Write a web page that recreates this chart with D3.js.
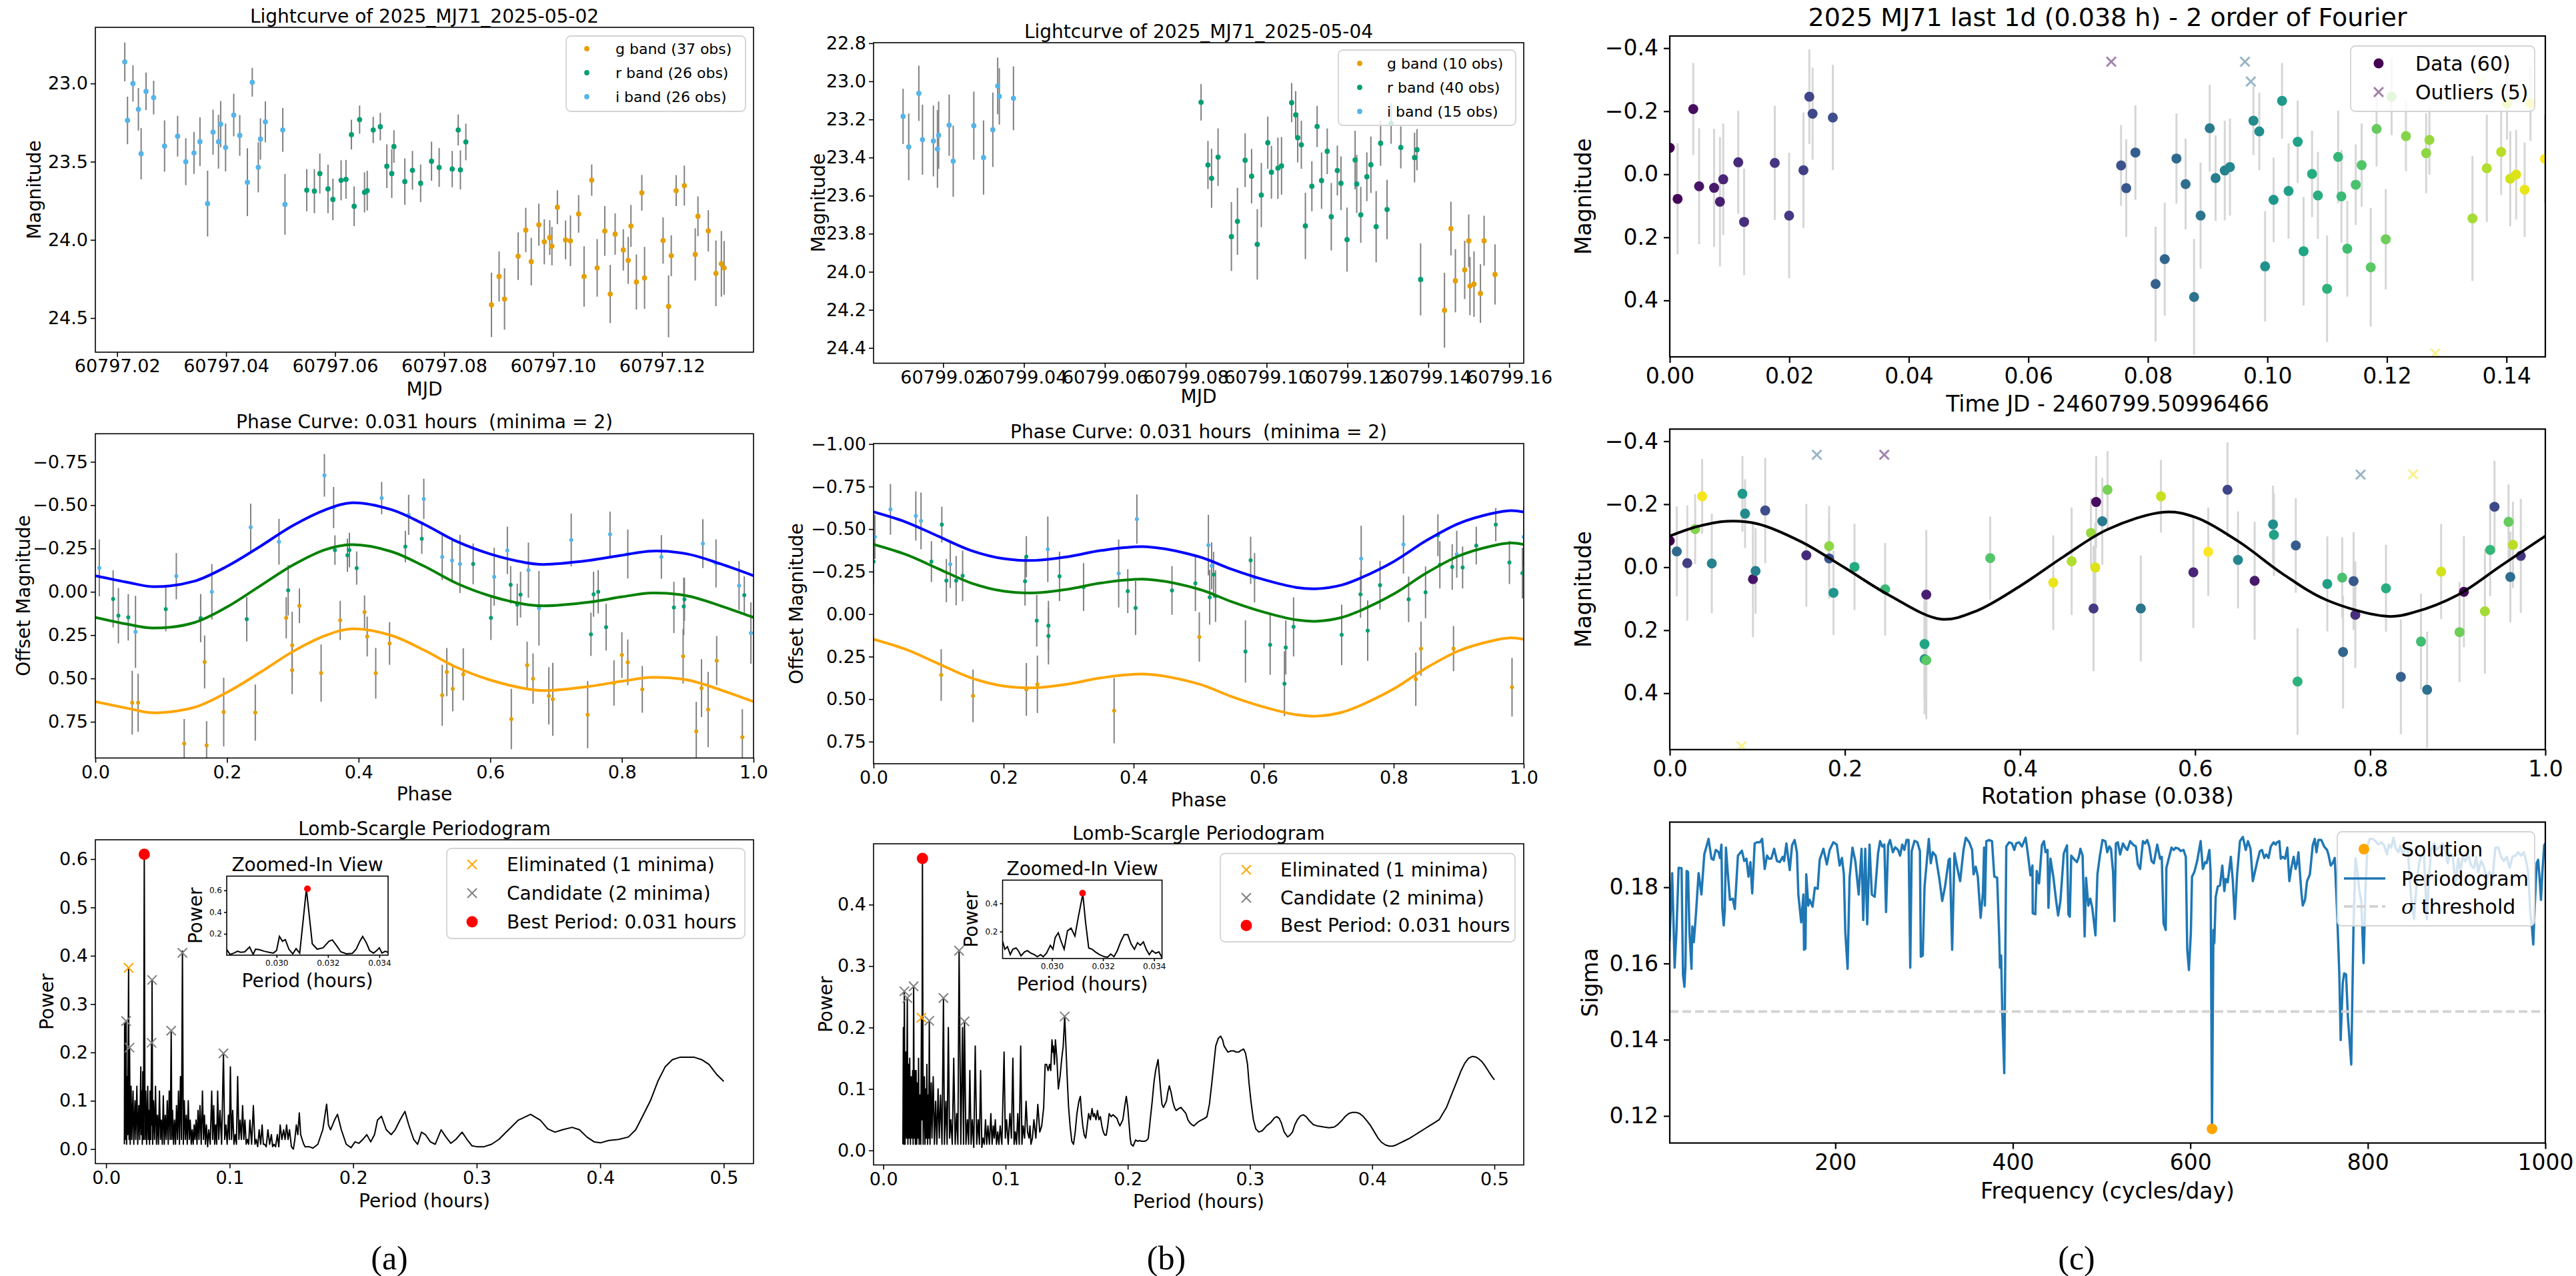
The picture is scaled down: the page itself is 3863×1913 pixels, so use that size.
<!DOCTYPE html>
<html>
<head>
<meta charset="utf-8">
<script src="https://cdn.jsdelivr.net/npm/d3@7"></script>
<style>
body { margin:0; background:#fff; }
svg text { white-space: pre; }
</style>
</head>
<body>
<svg id="fig" width="3863" height="1913"></svg>
<script>
// ---------- data ----------
const G_COL = '#E69F00', R_COL = '#009E73', I_COL = '#56B4E9';

// (a) light curve 2025-05-02: [MJD, mag, err]
const aTopI = [[60797.0214,22.862,.124],[60797.0219,23.236,.152],[60797.0229,23.000,.116],[60797.0239,23.165,.136],[60797.0244,23.449,.164],[60797.0253,23.050,.120],[60797.0267,23.090,.108],[60797.0287,23.400,.164],[60797.0311,23.337,.130],[60797.0326,23.500,.150],[60797.0341,23.444,.134],[60797.0352,23.372,.156],[60797.0366,23.768,.210],[60797.0376,23.311,.144],[60797.0386,23.372,.172],[60797.0390,23.260,.148],[60797.0399,23.409,.153],[60797.0414,23.202,.136],[60797.0425,23.332,.130],[60797.0439,23.631,.217],[60797.0448,22.992,.092],[60797.0459,23.536,.160],[60797.0463,23.355,.132],[60797.0472,23.245,.131],[60797.0504,23.297,.140],[60797.0508,23.773,.194]];
const aTopR = [[60797.0548,23.682,.135],[60797.0562,23.688,.141],[60797.0572,23.576,.128],[60797.0587,23.674,.155],[60797.0596,23.741,.133],[60797.0611,23.619,.128],[60797.0620,23.613,.124],[60797.0630,23.327,.095],[60797.0635,23.785,.127],[60797.0645,23.231,.090],[60797.0654,23.696,.128],[60797.0659,23.685,.127],[60797.0670,23.297,.084],[60797.0683,23.276,.088],[60797.0695,23.529,.140],[60797.0704,23.576,.156],[60797.0708,23.403,.104],[60797.0728,23.627,.148],[60797.0742,23.555,.124],[60797.0757,23.638,.120],[60797.0777,23.497,.125],[60797.0791,23.537,.124],[60797.0815,23.547,.116],[60797.0826,23.297,.099],[60797.0830,23.552,.125],[60797.0840,23.374,.117]];
const aTopG = [[60797.0887,24.415,.206],[60797.0901,24.234,.160],[60797.0911,24.378,.196],[60797.0936,24.104,.152],[60797.0950,23.937,.142],[60797.0960,24.139,.152],[60797.0974,23.903,.135],[60797.0984,24.012,.144],[60797.0994,23.985,.111],[60797.0998,24.040,.123],[60797.1008,23.791,.108],[60797.1023,24.000,.124],[60797.1032,24.006,.162],[60797.1047,23.834,.120],[60797.1057,24.234,.193],[60797.1071,23.618,.100],[60797.1081,24.179,.184],[60797.1095,23.943,.159],[60797.1105,24.346,.186],[60797.1114,23.963,.132],[60797.1129,24.064,.132],[60797.1138,24.131,.150],[60797.1143,23.911,.134],[60797.1153,24.269,.176],[60797.1163,23.699,.114],[60797.1168,24.243,.198],[60797.1202,24.004,.148],[60797.1212,24.425,.198],[60797.1217,24.101,.131],[60797.1226,23.685,.099],[60797.1241,23.653,.128],[60797.1261,24.093,.167],[60797.1266,23.849,.127],[60797.1285,23.942,.132],[60797.1299,24.214,.210],[60797.1309,24.153,.210],[60797.1314,24.179,.172]];

// (b) light curve 2025-05-04
const bTopI = [[60799.0101,23.184,.145],[60799.0115,23.344,.175],[60799.0140,23.063,.145],[60799.0149,23.306,.184],[60799.0176,23.313,.186],[60799.0186,23.355,.204],[60799.0189,23.283,.177],[60799.0215,23.230,.161],[60799.0225,23.419,.187],[60799.0276,23.233,.179],[60799.0300,23.400,.195],[60799.0323,23.254,.195],[60799.0335,23.024,.149],[60799.0339,23.079,.148],[60799.0374,23.089,.168]];
const bTopR = [[60799.0838,23.110,.096],[60799.0855,23.439,.126],[60799.0864,23.509,.155],[60799.0880,23.398,.151],[60799.0913,23.815,.181],[60799.0928,23.735,.176],[60799.0947,23.414,.141],[60799.0963,23.498,.143],[60799.0977,23.856,.185],[60799.0987,23.597,.169],[60799.1003,23.322,.137],[60799.1012,23.477,.139],[60799.1028,23.456,.161],[60799.1037,23.444,.151],[60799.1062,23.112,.103],[60799.1072,23.176,.124],[60799.1077,23.296,.130],[60799.1086,23.333,.126],[60799.1096,23.759,.174],[60799.1112,23.551,.131],[60799.1125,23.237,.108],[60799.1136,23.521,.148],[60799.1150,23.367,.120],[60799.1160,23.711,.177],[60799.1175,23.468,.131],[60799.1184,23.535,.141],[60799.1199,23.831,.168],[60799.1219,23.413,.154],[60799.1223,23.539,.153],[60799.1233,23.701,.147],[60799.1248,23.501,.128],[60799.1258,23.438,.148],[60799.1271,23.763,.187],[60799.1282,23.325,.118],[60799.1298,23.673,.156],[60799.1308,23.221,.107],[60799.1332,23.347,.110],[60799.1366,23.400,.130],[60799.1372,23.359,.108],[60799.1381,24.040,.189]];
const bTopG = [[60799.1440,24.202,.197],[60799.1456,23.773,.141],[60799.1467,24.047,.166],[60799.1490,23.990,.153],[60799.1500,23.837,.138],[60799.1503,24.075,.153],[60799.1513,24.065,.172],[60799.1529,24.114,.154],[60799.1538,23.837,.131],[60799.1565,24.014,.158]];

// phase curves: [phase, offset mag, err]
const aMidI = [[.006,-.138,.164],[.061,.231,.208],[.123,-.090,.133],[.177,.000,.160],[.236,-.372,.137],[.279,-.289,.132],[.348,-.672,.123],[.362,-.486,.119],[.435,-.541,.093],[.476,-.444,.116],[.499,-.536,.116],[.527,-.201,.133],[.542,-.181,.125],[.554,-.161,.168],[.606,-.087,.167],[.626,-.239,.137],[.658,-.125,.159],[.674,.095,.215],[.723,-.299,.152],[.782,-.332,.131],[.809,-.218,.141],[.860,-.201,.126],[.923,-.278,.141],[.943,-.164,.139],[.978,-.036,.142],[.996,.238,.177]];
const aMidR = [[.027,.041,.165],[.035,.138,.160],[.050,.147,.134],[.107,.100,.128],[.160,.152,.139],[.230,.158,.128],[.293,-.009,.146],[.364,-.241,.085],[.383,-.211,.096],[.386,-.241,.100],[.397,-.137,.096],[.471,-.261,.091],[.496,-.306,.087],[.574,-.161,.118],[.601,.150,.128],[.631,-.040,.108],[.641,.074,.121],[.646,.016,.132],[.753,.245,.125],[.757,.014,.130],[.764,.000,.125],[.776,.204,.135],[.879,.090,.148],[.894,.085,.166],[.895,.043,.125],[.986,.019,.108]];
const aMidG = [[.056,.640,.184],[.065,.640,.167],[.135,.876,.142],[.166,.405,.153],[.169,.886,.139],[.195,.694,.198],[.243,.697,.162],[.290,.150,.119],[.299,.309,.194],[.299,.452,.139],[.310,.081,.100],[.343,.469,.165],[.372,.165,.113],[.409,.117,.096],[.413,.258,.115],[.426,.470,.146],[.447,.298,.123],[.527,.597,.176],[.534,.463,.139],[.543,.560,.130],[.559,.476,.150],[.632,.734,.174],[.656,.423,.135],[.665,.501,.145],[.689,.600,.165],[.695,.620,.210],[.748,.709,.194],[.788,.526,.131],[.800,.365,.132],[.809,.407,.132],[.831,.563,.135],[.893,.372,.157],[.913,.805,.170],[.921,.556,.167],[.931,.679,.217],[.944,.397,.142],[.983,.839,.162]];
const aFitPhase = [0,.05,.087,.15,.2,.25,.3,.35,.39,.45,.5,.55,.6,.65,.68,.75,.8,.846,.9,.95,1];
const aFitI = [-.093,-.054,-.030,-.061,-.147,-.261,-.382,-.474,-.514,-.474,-.389,-.289,-.218,-.171,-.158,-.181,-.211,-.235,-.218,-.161,-.093];
const aFitR = [.148,.188,.209,.178,.088,-.033,-.154,-.244,-.272,-.232,-.147,-.047,.024,.070,.081,.060,.029,.007,.024,.081,.148];
const aFitG = [.634,.673,.698,.667,.580,.466,.345,.252,.214,.252,.338,.438,.509,.556,.570,.546,.516,.494,.509,.566,.634];

const bMidI = [[.002,-.454,.13],[.026,-.616,.149],[.065,-.577,.145],[.073,-.548,.167],[.118,-.293,.139],[.268,-.381,.193],[.377,-.239,.200],[.405,-.559,.145],[.515,-.406,.178],[.520,-.284,.138],[.586,-.214,.145],[.750,-.326,.194],[.815,-.410,.172],[.897,-.352,.138],[1.0,-.454,.174]];
const bMidR = [[.000,-.309,.13],[.089,-.309,.120],[.105,-.526,.106],[.112,-.197,.127],[.127,-.197,.145],[.137,-.225,.149],[.233,-.193,.143],[.235,-.338,.121],[.251,.039,.152],[.269,.068,.146],[.269,.129,.167],[.286,-.222,.145],[.323,-.159,.141],[.391,-.135,.129],[.403,-.036,.159],[.459,-.139,.143],[.495,-.181,.163],[.517,-.099,.161],[.523,-.232,.134],[.526,-.106,.152],[.572,.220,.183],[.580,-.316,.139],[.610,.181,.176],[.632,.409,.191],[.634,.196,.159],[.646,.075,.174],[.720,.122,.178],[.749,-.116,.138],[.760,.097,.178],[.779,-.170,.143],[.823,-.087,.134],[.849,-.128,.152],[.868,-.464,.123],[.871,-.290,.139],[.890,-.277,.134],[.906,-.274,.123],[.927,-.403,.111],[.957,-.526,.098],[.978,-.304,.127],[.998,-.241,.149]];
const bMidG = [[.104,.358,.152],[.153,.481,.155],[.235,.443,.155],[.252,.413,.169],[.370,.568,.192],[.501,.135,.145],[.834,.383,.157],[.842,.203,.159],[.892,.203,.133],[.982,.430,.172]];
const bFitPhase = [0,.05,.1,.15,.2,.25,.3,.35,.42,.5,.55,.6,.65,.68,.72,.75,.8,.85,.9,.95,.98,1];
const bFitI = [-.601,-.541,-.457,-.374,-.326,-.316,-.338,-.374,-.396,-.338,-.265,-.203,-.157,-.149,-.171,-.214,-.309,-.432,-.533,-.591,-.609,-.601];
const bFitR = [-.410,-.350,-.266,-.183,-.135,-.125,-.147,-.183,-.205,-.147,-.074,-.012,.034,.042,.020,-.023,-.118,-.241,-.342,-.400,-.418,-.410];
const bFitG = [.148,.208,.292,.375,.423,.433,.411,.375,.353,.411,.484,.546,.592,.600,.578,.535,.440,.317,.216,.158,.140,.148];

// Lomb-Scargle periodograms: [period (h), power]
const aPgram = [[.0148,.01],[.0150,.26],[.0155,.02],[.0162,.265],[.0166,.01],[.0170,.15],[.0175,.03],[.0182,.375],[.0186,.02],[.0190,.21],[.0195,.01],[.0202,.13],[.0208,.02],[.0218,.12],[.0224,.01],[.0234,.10],[.0240,.02],[.0249,.13],[.0256,.01],[.0265,.09],[.0272,.02],[.0281,.17],[.0285,.03],[.0289,.12],[.0293,.01],[.0297,.16],[.0303,.02],[.0309,.61],[.0315,.02],[.0321,.12],[.0328,.01],[.0337,.13],[.0342,.02],[.0348,.08],[.0352,.01],[.0356,.12],[.0362,.02],[.0368,.22],[.0370,.05],[.0372,.35],[.0377,.01],[.0384,.10],[.0392,.02],[.0400,.13],[.0408,.01],[.0416,.07],[.0424,.01],[.0432,.12],[.0440,.02],[.0447,.06],[.0455,.01],[.0463,.11],[.0471,.01],[.0479,.07],[.0487,.02],[.0495,.10],[.0503,.01],[.0511,.12],[.0519,.02],[.0527,.245],[.0532,.02],[.0538,.08],[.0546,.01],[.0554,.06],[.0562,.01],[.0570,.09],[.0578,.02],[.0586,.12],[.0594,.01],[.0602,.15],[.0610,.02],[.0618,.41],[.0625,.01],[.0633,.10],[.0641,.02],[.0649,.07],[.0657,.01],[.0665,.10],[.0673,.02],[.0681,.06],[.0689,.01],[.0697,.04],[.0705,.01],[.0713,.05],[.0720,.02],[.0728,.06],[.0736,.01],[.0744,.08],[.0752,.02],[.0760,.09],[.0770,.01],[.0780,.12],[.0788,.02],[.0796,.07],[.0804,.01],[.0812,.05],[.0822,.005],[.0831,.04],[.0843,.01],[.0855,.12],[.0863,.02],[.0871,.09],[.0879,.01],[.0887,.05],[.0895,.01],[.0903,.12],[.0912,.02],[.0922,.08],[.0935,.01],[.0950,.198],[.0960,.02],[.0970,.05],[.0980,.01],[.0990,.07],[.0998,.02],[.1006,.17],[.1015,.02],[.1025,.08],[.1035,.01],[.1045,.03],[.1055,.01],[.1065,.15],[.1075,.02],[.1085,.06],[.1095,.02],[.1105,.09],[.1115,.02],[.1124,.06],[.1134,.01],[.1144,.02],[.1154,.01],[.1164,.06],[.1178,.01],[.1192,.09],[.1205,.01],[.1215,.02],[.1227,.005],[.1239,.04],[.1251,.01],[.1263,.05],[.1273,.01],[.1283,.01],[.1296,.005],[.1310,.04],[.1324,.01],[.1338,.03],[.1348,.005],[.1358,.01],[.1372,.005],[.1386,.03],[.1398,.005],[.1409,.05],[.1423,.02],[.1437,.04],[.1449,.02],[.1461,.05],[.1473,.02],[.1485,.04],[.1500,.005],[.1516,.0],[.1528,.02],[.1540,.05],[.1552,.03],[.1564,.075],[.1575,.03],[.1587,.02],[.1600,.01],[.1611,.005],[.1643,.005],[.1675,.002],[.1714,.01],[.1754,.04],[.1785,.093],[.1800,.05],[.1817,.04],[.1849,.06],[.1873,.072],[.1904,.04],[.1944,.01],[.1983,.003],[.2015,.015],[.2047,.012],[.2078,.02],[.2110,.03],[.2142,.015],[.2173,.03],[.2197,.06],[.2229,.068],[.2268,.04],[.2308,.03],[.2340,.04],[.2379,.06],[.2419,.078],[.2450,.05],[.2490,.02],[.2522,.01],[.2553,.035],[.2585,.03],[.2625,.015],[.2664,.01],[.2712,.04],[.2751,.025],[.2791,.012],[.2831,.02],[.2882,.035],[.2922,.02],[.2961,.007],[.3001,.005],[.3060,.005],[.3120,.01],[.3179,.02],[.3258,.04],[.3337,.06],[.3436,.072],[.3515,.06],[.3575,.042],[.3634,.035],[.3694,.04],[.3773,.045],[.3832,.04],[.3892,.025],[.3951,.015],[.4002,.013],[.4070,.018],[.4149,.02],[.4228,.025],[.4287,.04],[.4347,.07],[.4406,.10],[.4466,.14],[.4525,.17],[.4584,.185],[.4644,.19],[.4703,.19],[.4762,.19],[.4822,.185],[.4881,.175],[.4941,.155],[.5000,.14]];
const aElim = [[.0182,.375]];
const aCand = [[.0162,.265],[.0190,.21],[.0372,.350],[.0368,.220],[.0527,.245],[.0618,.406],[.0950,.198]];
const aBest = [.0309,.61];
const aInset = [[.02806,.055],[.02819,.011],[.02834,.023],[.02848,.040],[.02861,.030],[.02876,.035],[.02895,.079],[.02909,.011],[.02918,.059],[.02933,.055],[.02952,.040],[.02971,.030],[.02987,.023],[.03000,.047],[.03011,.176],[.03023,.132],[.03034,.147],[.03048,.059],[.03063,.016],[.03076,.064],[.03090,.023],[.03103,.314],[.03116,.612],[.03128,.350],[.03139,.108],[.03158,.059],[.03181,.072],[.03204,.132],[.03217,.144],[.03230,.103],[.03250,.035],[.03272,.016],[.03295,.021],[.03310,.059],[.03324,.132],[.03335,.176],[.03349,.120],[.03362,.047],[.03377,.023],[.03390,.047],[.03400,.072],[.03410,.023],[.03423,.040],[.03434,.030]];
const aInsetBest = [.0312,.614];

const bPgram = [[.0160,.01],[.0164,.2],[.0168,.01],[.0172,.259],[.0178,.01],[.0184,.16],[.0190,.02],[.0196,.248],[.0201,.01],[.0206,.14],[.0211,.02],[.0216,.15],[.0222,.01],[.0228,.12],[.0234,.02],[.0240,.13],[.0244,.01],[.0248,.267],[.0253,.02],[.0258,.13],[.0263,.01],[.0268,.13],[.0273,.01],[.0280,.11],[.0284,.02],[.0288,.15],[.0293,.01],[.0300,.09],[.0306,.01],[.0312,.216],[.0316,.05],[.0320,.475],[.0326,.01],[.0336,.12],[.0341,.01],[.0348,.10],[.0352,.02],[.0356,.14],[.0362,.01],[.0368,.09],[.0372,.02],[.0376,.211],[.0382,.01],[.0392,.11],[.0398,.02],[.0408,.12],[.0418,.01],[.0428,.08],[.0438,.01],[.0448,.10],[.0458,.02],[.0468,.09],[.0480,.01],[.0492,.248],[.0500,.01],[.0512,.08],[.0522,.01],[.0532,.20],[.0542,.02],[.0552,.05],[.0564,.01],[.0576,.15],[.0588,.01],[.0600,.06],[.0610,.01],[.0620,.325],[.0634,.01],[.0648,.20],[.0656,.01],[.0664,.21],[.0676,.01],[.0688,.05],[.0698,.01],[.0708,.13],[.0718,.01],[.0728,.05],[.0740,.005],[.0752,.17],[.0764,.01],[.0776,.05],[.0786,.01],[.0796,.13],[.0806,.005],[.0816,.02],[.0826,.01],[.0836,.05],[.0846,.01],[.0856,.04],[.0868,.01],[.0880,.06],[.0890,.01],[.0900,.04],[.0908,.02],[.0916,.05],[.0926,.01],[.0936,.03],[.0946,.01],[.0956,.04],[.0970,.01],[.0988,.16],[.0998,.02],[.1008,.05],[.1022,.01],[.1036,.06],[.1048,.02],[.1060,.15],[.1070,.01],[.1080,.03],[.1090,.01],[.1100,.06],[.1112,.01],[.1124,.17],[.1134,.01],[.1144,.04],[.1156,.02],[.1168,.08],[.1180,.03],[.1192,.02],[.1200,.04],[.1208,.01],[.1220,.02],[.1232,.05],[.1248,.02],[.1264,.075],[.1280,.03],[.1296,.04],[.1312,.07],[.1324,.14],[.1336,.14],[.1348,.13],[.1360,.14],[.1370,.13],[.1380,.18],[.1386,.16],[.1392,.17],[.1400,.14],[.1408,.18],[.1420,.15],[.1432,.10],[.1446,.12],[.1460,.15],[.1472,.17],[.1484,.218],[.1494,.17],[.1504,.12],[.1516,.07],[.1528,.04],[.1542,.015],[.1556,.01],[.1570,.03],[.1584,.06],[.1600,.08],[.1612,.088],[.1622,.06],[.1632,.04],[.1644,.025],[.1656,.02],[.1668,.04],[.1680,.06],[.1694,.05],[.1708,.068],[.1718,.055],[.1728,.06],[.1740,.05],[.1752,.065],[.1764,.05],[.1776,.055],[.1788,.04],[.1800,.03],[.1812,.025],[.1824,.025],[.1836,.04],[.1848,.06],[.1864,.055],[.1880,.058],[.1896,.055],[.1912,.052],[.1924,.045],[.1936,.04],[.1948,.045],[.1960,.05],[.1974,.07],[.1988,.088],[.2000,.07],[.2012,.04],[.2020,.02],[.2028,.01],[.2044,.007],[.2064,.017],[.2080,.015],[.2096,.016],[.2116,.015],[.2136,.015],[.2152,.016],[.2168,.02],[.2184,.05],[.2200,.08],[.2214,.11],[.2228,.13],[.2248,.148],[.2268,.10],[.2280,.075],[.2292,.07],[.2304,.075],[.2316,.08],[.2328,.095],[.2340,.105],[.2354,.095],[.2368,.08],[.2382,.07],[.2396,.065],[.2416,.068],[.2436,.07],[.2456,.065],[.2476,.06],[.2492,.05],[.2508,.045],[.2524,.042],[.2540,.04],[.2568,.045],[.2588,.048],[.2608,.05],[.2628,.052],[.2648,.055],[.2668,.075],[.2688,.11],[.2704,.14],[.2720,.17],[.2740,.182],[.2760,.186],[.2776,.18],[.2788,.17],[.2804,.165],[.2820,.16],[.2844,.162],[.2868,.162],[.2888,.16],[.2908,.16],[.2928,.163],[.2948,.165],[.2964,.158],[.2980,.14],[.2992,.11],[.3008,.08],[.3028,.05],[.3048,.035],[.3072,.03],[.3100,.032],[.3136,.04],[.3168,.045],[.3200,.053],[.3220,.055],[.3240,.052],[.3256,.045],[.3280,.03],[.3308,.022],[.3328,.025],[.3348,.03],[.3368,.042],[.3388,.05],[.3412,.056],[.3436,.058],[.3460,.055],[.3488,.048],[.3518,.042],[.3548,.04],[.3578,.039],[.3608,.038],[.3648,.037],[.3688,.038],[.3718,.042],[.3748,.048],[.3778,.055],[.3808,.06],[.3838,.062],[.3868,.062],[.3898,.06],[.3928,.055],[.3958,.048],[.3988,.04],[.4018,.03],[.4048,.02],[.4078,.013],[.4108,.009],[.4138,.007],[.4168,.007],[.4198,.009],[.4228,.012],[.4268,.016],[.4308,.02],[.4348,.025],[.4388,.03],[.4428,.035],[.4468,.04],[.4508,.045],[.4548,.05],[.4578,.06],[.4608,.07],[.4638,.085],[.4668,.1],[.4698,.115],[.4728,.13],[.4758,.142],[.4788,.15],[.4818,.153],[.4848,.152],[.4872,.149],[.4896,.145],[.4922,.138],[.4948,.13],[.4974,.122],[.5000,.115]];
const bElim = [[.0312,.216]];
const bCand = [[.0172,.259],[.0196,.248],[.0248,.267],[.0376,.211],[.0492,.248],[.0620,.325],[.0664,.210],[.1484,.218]];
const bBest = [.0320,.475];
const bInset = [[.02807,.131],[.02816,.075],[.02826,.093],[.02837,.037],[.02847,.075],[.02860,.084],[.02870,.060],[.02879,.028],[.02893,.056],[.02904,.065],[.02918,.047],[.02931,.037],[.02943,.022],[.02956,.037],[.02966,.022],[.02979,.047],[.02994,.103],[.03004,.075],[.03013,.159],[.03025,.191],[.03036,.131],[.03048,.075],[.03061,.206],[.03075,.224],[.03090,.168],[.03103,.299],[.03121,.467],[.03132,.262],[.03144,.084],[.03157,.075],[.03170,.056],[.03186,.037],[.03205,.022],[.03218,.019],[.03230,.041],[.03243,.022],[.03256,.065],[.03270,.131],[.03283,.178],[.03297,.178],[.03310,.112],[.03323,.075],[.03335,.121],[.03346,.103],[.03358,.127],[.03369,.075],[.03381,.037],[.03392,.065],[.03406,.047],[.03419,.056],[.03431,.015]];
const bInsetBest = [.0312,.472];

// (c) last 1d, 60 points in time order
const cTime = [0.0000,.00131,.00393,.00491,.00742,.00840,.00895,.01146,.01244,.01757,.01997,.02237,.02335,.02390,.02728,.07551,.07638,.07791,.08129,.08282,.08478,.08631,.08773,.08882,.09035,.09133,.09286,.09373,.09766,.09864,.09961,.10103,.10245,.10354,.10507,.10605,.10747,.10845,.10998,.11183,.11238,.11336,.11478,.11577,.11729,.11827,.11980,.12078,.12318,.12656,.12711,.13431,.13671,.13911,.14009,.14063,.14162,.14304,.14402,.14642];
const cMag = [-.084,.078,-.207,.038,.043,.087,.016,-.038,.151,-.036,.131,-.013,-.246,-.192,-.180,-.028,.044,-.069,.348,.269,-.050,.031,.389,.131,-.146,.012,-.012,-.023,-.170,-.136,.292,.081,-.233,.053,-.103,.244,-.001,.067,.363,-.055,.070,.236,.033,-.029,.295,-.144,.206,-.246,-.121,-.067,-.109,.140,-.019,-.071,-.225,.014,.001,.049,-.225,-.049];
const cErr = [.12,.176,.146,.184,.187,.205,.177,.163,.169,.181,.199,.183,.150,.146,.167,.128,.155,.150,.182,.179,.143,.144,.184,.168,.138,.136,.158,.154,.109,.123,.175,.134,.120,.151,.131,.172,.137,.138,.169,.147,.147,.152,.128,.132,.188,.119,.159,.122,.111,.127,.110,.198,.170,.137,.115,.151,.142,.150,.119,.140];
const cPhase = [0.000,.907,.487,.095,.668,.293,.598,.156,.783,.972,.484,.020,.637,.942,.109,.182,.781,.715,.835,.769,.008,.960,.865,.538,.494,.098,.048,.649,.086,.689,.291,.187,.083,.751,.690,.291,.211,.818,.717,.937,.246,.858,.768,.366,.293,.958,.902,.500,.029,.182,.481,.931,.459,.963,.561,.881,.486,.438,.037,.615];
const cOutTime = [.07387,.09624,.09722,.13573,.12810];
const cOutMag = [-.357,-.357,-.294,-.295,.568];
const cOutPhase = [.245,.168,.789,.849,.082];
const cOutTone = [.02,.35,.35,.98,.98];
const cFit = [[0,-.099],[.03,-.128],[.065,-.146],[.1,-.138],[.15,-.081],[.2,.002],[.25,.088],[.31,.165],[.35,.139],[.4,.060],[.45,-.034],[.5,-.120],[.565,-.175],[.6,-.159],[.65,-.081],[.7,.021],[.75,.104],[.82,.156],[.85,.143],[.9,.088],[.95,-.006],[1,-.099]];
// sigma periodogram: [frequency (1/d), sigma]
const cPgram = [[13.2,.1659],[16.1,.1837],[17.7,.1700],[18.9,.1589],[20.9,.1682],[23.4,.1851],[26.7,.1850],[28.3,.1571],[29.9,.1539],[31.1,.1595],[32.4,.1843],[34.0,.1840],[35.6,.1682],[37.9,.1586],[38.8,.1697],[40.5,.1656],[42.7,.1723],[45.9,.1837],[49.1,.1781],[52.3,.1886],[57.1,.1927],[60.4,.1875],[62.6,.1872],[65.2,.1898],[68.4,.1892],[70.0,.1877],[71.6,.1912],[72.6,.1746],[74.2,.1700],[75.4,.1741],[76.7,.1904],[78.7,.1840],[81.2,.1767],[84.4,.1770],[86.7,.1743],[90.2,.1883],[94.7,.1896],[97.3,.1869],[99.8,.1875],[102.1,.1828],[104.3,.1866],[106.3,.1784],[109.1,.1915],[111.7,.1918],[115.0,.1918],[117.5,.1927],[120.4,.1848],[123.0,.1883],[125.2,.1875],[127.8,.1875],[131.0,.1901],[134.2,.1869],[137.4,.1866],[140.6,.1880],[142.2,.1869],[144.8,.1915],[148.6,.1845],[151.2,.1910],[154.1,.1924],[156.7,.1892],[158.3,.1781],[161.5,.1708],[164.0,.1781],[164.7,.1636],[166.3,.1639],[167.2,.1834],[169.5,.1752],[171.1,.1767],[174.3,.1749],[176.9,.1799],[180.1,.1796],[182.3,.1872],[186.5,.1901],[190.4,.1860],[193.6,.1898],[197.7,.1918],[201.6,.1912],[204.8,.1857],[207.4,.1877],[209.6,.1834],[211.2,.1682],[213.8,.1586],[216.0,.1825],[219.3,.1904],[222.5,.1869],[226.3,.1781],[229.5,.1901],[231.4,.1714],[233.7,.1901],[235.9,.1703],[238.5,.1912],[241.1,.1781],[244.3,.1775],[248.1,.1889],[250.4,.1921],[252.9,.1907],[255.2,.1912],[257.1,.1735],[259.4,.1910],[261.6,.1924],[264.8,.1892],[267.4,.1905],[270.6,.1898],[272.9,.1883],[275.4,.1912],[277.7,.1898],[280.2,.1924],[282.5,.1924],[284.4,.1589],[286.0,.1895],[289.2,.1922],[292.4,.1918],[295.3,.1895],[296.3,.1618],[298.5,.1621],[300.5,.1802],[305.3,.1927],[307.5,.1863],[309.8,.1892],[313.0,.1883],[317.2,.1822],[320.4,.1764],[323.6,.1802],[327.7,.1872],[329.0,.1875],[331.6,.1636],[334.2,.1889],[337.4,.1851],[340.6,.1816],[344.4,.1898],[347.0,.1930],[350.9,.1918],[354.1,.1898],[355.7,.1834],[358.2,.1854],[360.5,.1828],[363.7,.1720],[366.3,.1787],[367.6,.1904],[368.5,.1752],[370.1,.1921],[373.3,.1924],[376.5,.1921],[379.1,.1828],[382.3,.1825],[384.6,.1671],[385.5,.1589],[386.8,.1621],[388.1,.1472],[390.3,.1312],[392.6,.1907],[395.8,.1918],[399.0,.1915],[401.6,.1898],[403.8,.1915],[407.0,.1918],[410.2,.1907],[414.4,.1930],[416.7,.1892],[419.9,.1831],[422.1,.1857],[422.4,.1732],[425.3,.1729],[426.9,.1843],[429.5,.1810],[432.7,.1910],[435.0,.1921],[436.9,.1892],[439.1,.1898],[440.1,.1746],[442.4,.1875],[445.6,.1828],[448.8,.1764],[451.0,.1726],[453.6,.1764],[457.4,.1889],[461.0,.1910],[462.6,.1729],[464.2,.1723],[465.8,.1883],[469.6,.1872],[472.2,.1866],[474.4,.1880],[476.1,.1901],[478.6,.1883],[480.9,.1671],[482.5,.1825],[485.0,.1752],[487.3,.1770],[489.5,.1746],[493.1,.1674],[495.3,.1834],[497.9,.1880],[501.0,.1924],[504.2,.1921],[506.4,.1892],[508.7,.1907],[510.6,.1901],[512.9,.1840],[514.5,.1711],[516.1,.1915],[518.3,.1918],[520.9,.1886],[524.1,.1915],[526.7,.1904],[529.0,.1898],[532.2,.1921],[535.4,.1912],[538.6,.1907],[540.8,.1860],[543.4,.1848],[546.6,.1921],[548.9,.1915],[551.4,.1924],[553.7,.1907],[556.3,.1869],[558.8,.1863],[562.7,.1912],[565.9,.1875],[567.8,.1880],[569.8,.1705],[572.3,.1688],[573.0,.1851],[575.6,.1875],[578.8,.1904],[581.3,.1898],[583.6,.1904],[586.8,.1901],[589.1,.1895],[592.3,.1898],[594.9,.1880],[596.5,.1636],[598.4,.1583],[600.6,.1682],[601.9,.1828],[604.5,.1840],[607.7,.1869],[611.6,.1921],[614.1,.1848],[616.7,.1866],[618.3,.1863],[621.5,.1898],[622.8,.1840],[624.4,.1166],[626.0,.1688],[627.0,.1653],[628.6,.1775],[630.9,.1802],[633.4,.1805],[636.0,.1857],[638.3,.1790],[639.9,.1822],[642.1,.1813],[645.6,.1880],[647.9,.1816],[650.1,.1717],[652.7,.1834],[655.9,.1921],[659.2,.1932],[662.4,.1898],[664.9,.1921],[667.8,.1901],[670.4,.1816],[672.7,.1840],[675.2,.1866],[678.4,.1895],[680.7,.1898],[683.3,.1877],[685.5,.1886],[688.1,.1877],[690.7,.1907],[693.9,.1918],[696.1,.1912],[697.7,.1918],[700.3,.1921],[701.9,.1875],[704.2,.1880],[706.7,.1875],[709.3,.1904],[711.6,.1816],[713.8,.1851],[716.4,.1880],[718.6,.1848],[720.2,.1863],[721.8,.1892],[725.1,.1787],[726.7,.1752],[729.2,.1767],[731.5,.1816],[734.7,.1834],[737.9,.1910],[740.2,.1927],[742.1,.1892],[744.3,.1924],[747.6,.1924],[750.8,.1907],[754.0,.1898],[755.6,.1886],[758.2,.1857],[760.4,.1863],[762.7,.1877],[765.2,.1746],[767.8,.1577],[769.4,.1399],[771.7,.1548],[773.3,.1574],[775.5,.1571],[777.5,.1461],[781.3,.1335],[783.9,.1705],[786.1,.1877],[788.4,.1840],[790.3,.1793],[792.6,.1764],[795.2,.1601],[797.4,.1799],[799.6,.1907],[802.2,.1927],[805.4,.1927],[808.7,.1921],[811.9,.1912],[815.1,.1918],[818.3,.1910],[821.5,.1886],[823.8,.1912],[826.3,.1904],[828.9,.1930],[831.2,.1904],[834.4,.1892],[836.6,.1910],[839.2,.1886],[841.8,.1898],[845.0,.1901],[847.2,.1822],[849.5,.1752],[852.1,.1717],[855.3,.1822],[857.8,.1863],[860.1,.1883],[863.3,.1886],[866.5,.1717],[868.8,.1822],[871.3,.1898],[874.6,.1915],[877.8,.1898],[881.0,.1907],[884.2,.1915],[887.4,.1898],[890.0,.1863],[892.2,.1886],[895.5,.1886],[898.7,.1810],[901.9,.1875],[904.2,.1840],[906.7,.1880],[909.9,.1869],[913.1,.1886],[916.4,.1857],[919.6,.1851],[922.1,.1880],[924.4,.1840],[927.6,.1869],[930.8,.1854],[934.0,.1822],[937.3,.1840],[940.5,.1822],[943.7,.1904],[946.9,.1904],[950.1,.1880],[953.3,.1869],[956.5,.1880],[959.8,.1851],[963.0,.1880],[966.2,.1883],[969.4,.1892],[972.6,.1883],[975.8,.1892],[978.4,.1869],[980.6,.1840],[983.2,.1729],[984.8,.1700],[986.4,.1650],[988.1,.1752],[990.3,.1863],[991.9,.1872],[993.5,.1825],[995.1,.1767],[996.7,.1840],[998.7,.1910],[1000,.1915]];
const cSolution = [624.4,.1166];
const cThreshold = 0.1474;

// tick values
const aTopXTicks = [60797.02,60797.04,60797.06,60797.08,60797.10,60797.12];
const aTopYTicks = [23.0,23.5,24.0,24.5];
const bTopXTicks = [60799.02,60799.04,60799.06,60799.08,60799.10,60799.12,60799.14,60799.16];
const bTopYTicks = [22.8,23.0,23.2,23.4,23.6,23.8,24.0,24.2,24.4];
const phaseTicks = [0,0.2,0.4,0.6,0.8,1.0];
const aMidYTicks = [-0.75,-0.5,-0.25,0,0.25,0.5,0.75];
const bMidYTicks = [-1.0,-0.75,-0.5,-0.25,0,0.25,0.5,0.75];
const periodTicks = [0,0.1,0.2,0.3,0.4,0.5];
const aBotYTicks = [0,0.1,0.2,0.3,0.4,0.5,0.6];
const bBotYTicks = [0,0.1,0.2,0.3,0.4];
const insetXTicks = [0.030,0.032,0.034];
const aInsetYTicks = [0.2,0.4,0.6];
const bInsetYTicks = [0.2,0.4];
const cTopXTicks = [0,0.02,0.04,0.06,0.08,0.10,0.12,0.14];
const cMagTicks = [-0.4,-0.2,0,0.2,0.4];
const cFreqTicks = [200,400,600,800,1000];
const cSigmaTicks = [0.12,0.14,0.16,0.18];

// ---------- drawing ----------
const FONT = '"DejaVu Sans", Verdana, sans-serif';
const svg = d3.select('#fig');
svg.append('rect').attr('width', 3863).attr('height', 1913).attr('fill', '#fff');
const defs = svg.append('defs');
let clipCount = 0;

function styleAxis(sel, fs, lw) {
    sel.select('.domain').remove();
    sel.attr('font-size', fs).attr('font-family', FONT);
    sel.selectAll('line').attr('stroke', '#000').attr('stroke-width', lw);
    sel.selectAll('text').attr('fill', '#000');
}

function makePanel(c) {
    const x = d3.scaleLinear().domain(c.xd).range([c.x0, c.x1]);
    const y = d3.scaleLinear().domain(c.yd).range([c.y0, c.y1]);
    const id = 'clip' + (clipCount++);
    defs.append('clipPath').attr('id', id).append('rect')
        .attr('x', c.x0).attr('y', c.y0).attr('width', c.x1 - c.x0).attr('height', c.y1 - c.y0);
    const root = svg.append('g');
    const plot = root.append('g').attr('clip-path', `url(#${id})`);
    const frame = root.append('g');
    const lw = c.lw || 1.6;
    frame.append('g').attr('transform', `translate(0,${c.y1})`)
        .call(d3.axisBottom(x).tickValues(c.xt).tickFormat(d3.format(c.xf)).tickSize(c.ts).tickPadding(c.tp))
        .call(styleAxis, c.fs, lw);
    frame.append('g').attr('transform', `translate(${c.x0},0)`)
        .call(d3.axisLeft(y).tickValues(c.yt).tickFormat(d3.format(c.yf)).tickSize(c.ts).tickPadding(c.tp))
        .call(styleAxis, c.fs, lw);
    frame.append('rect').attr('x', c.x0).attr('y', c.y0)
        .attr('width', c.x1 - c.x0).attr('height', c.y1 - c.y0)
        .attr('fill', 'none').attr('stroke', '#000').attr('stroke-width', lw);
    const over = root.append('g');
    return {x, y, plot, over};
}

function label(g, x, y, txt, fs, rot, anchor) {
    const t = g.append('text').attr('x', x).attr('y', y)
        .attr('text-anchor', anchor || 'middle').attr('dominant-baseline', 'central')
        .attr('font-size', fs).attr('font-family', FONT).attr('fill', '#000').text(txt);
    if (rot) t.attr('transform', `rotate(-90,${x},${y})`);
    return t;
}

function xPath(x, y, s) {
    return `M${x - s},${y - s}L${x + s},${y + s}M${x - s},${y + s}L${x + s},${y - s}`;
}

function errPoints(p, data, color, r, ecol, ew) {
    p.plot.append('g').selectAll('line').data(data).join('line')
        .attr('x1', d => p.x(d[0])).attr('x2', d => p.x(d[0]))
        .attr('y1', d => p.y(d[1] - d[2])).attr('y2', d => p.y(d[1] + d[2]))
        .attr('stroke', ecol).attr('stroke-width', ew);
    p.plot.append('g').selectAll('circle').data(data).join('circle')
        .attr('cx', d => p.x(d[0])).attr('cy', d => p.y(d[1])).attr('r', r).attr('fill', color);
}

function fitLine(p, phases, mags, color, w) {
    const pts = phases.map((ph, i) => [ph, mags[i]]);
    p.plot.append('path').datum(pts)
        .attr('fill', 'none').attr('stroke', color).attr('stroke-width', w)
        .attr('d', d3.line().x(d => p.x(d[0])).y(d => p.y(d[1])).curve(d3.curveCatmullRom.alpha(0.5)));
}

function legendBox(g, b) {
    g.append('rect').attr('x', b[0]).attr('y', b[1]).attr('width', b[2] - b[0]).attr('height', b[3] - b[1])
        .attr('rx', 7).attr('fill', '#fff').attr('fill-opacity', 0.8)
        .attr('stroke', '#d4d4d4').attr('stroke-width', 1.8);
}

// ----- (a) top: lightcurve -----
const aT = makePanel({x0:143, x1:1130, y0:41, y1:528, xd:[60797.016,60797.1368], yd:[22.641,24.718],
    xt:aTopXTicks, yt:aTopYTicks, xf:'.2f', yf:'.1f', ts:7, tp:4, fs:27});
errPoints(aT, aTopG, G_COL, 3.9, '#808080', 2);
errPoints(aT, aTopR, R_COL, 3.9, '#808080', 2);
errPoints(aT, aTopI, I_COL, 3.9, '#808080', 2);
label(aT.over, 636.5, 24, 'Lightcurve of 2025_MJ71_2025-05-02', 28);
label(aT.over, 636.5, 583, 'MJD', 28);
label(aT.over, 51, 284.5, 'Magnitude', 28, true);
legendBox(aT.over, [849,54,1118,167]);
[[G_COL,'g band (37 obs)',73],[R_COL,'r band (26 obs)',109],[I_COL,'i band (26 obs)',145]].forEach(e => {
    aT.over.append('circle').attr('cx', 880).attr('cy', e[2]).attr('r', 3.9).attr('fill', e[0]);
    label(aT.over, 923, e[2], e[1], 22, false, 'start');
});

// ----- (b) top -----
const bT = makePanel({x0:1310, x1:2285, y0:64, y1:544.5, xd:[60799.0028,60799.1636], yd:[22.797,24.48],
    xt:bTopXTicks, yt:bTopYTicks, xf:'.2f', yf:'.1f', ts:7, tp:4, fs:27});
errPoints(bT, bTopG, G_COL, 3.9, '#808080', 2);
errPoints(bT, bTopR, R_COL, 3.9, '#808080', 2);
errPoints(bT, bTopI, I_COL, 3.9, '#808080', 2);
label(bT.over, 1797.5, 47, 'Lightcurve of 2025_MJ71_2025-05-04', 28);
label(bT.over, 1797.5, 594, 'MJD', 28);
label(bT.over, 1227, 304, 'Magnitude', 28, true);
legendBox(bT.over, [2007,75,2273,188]);
[[G_COL,'g band (10 obs)',95],[R_COL,'r band (40 obs)',131],[I_COL,'i band (15 obs)',167]].forEach(e => {
    bT.over.append('circle').attr('cx', 2039).attr('cy', e[2]).attr('r', 3.9).attr('fill', e[0]);
    label(bT.over, 2080, e[2], e[1], 22, false, 'start');
});

// ----- (a) middle: phase curve -----
const aM = makePanel({x0:143, x1:1130, y0:650.3, y1:1136.4, xd:[0,1], yd:[-0.912,0.959],
    xt:phaseTicks, yt:aMidYTicks, xf:'.1f', yf:'.2f', ts:7, tp:4, fs:27});
errPoints(aM, aMidG, G_COL, 3, '#808080', 2);
errPoints(aM, aMidR, R_COL, 3, '#808080', 2);
errPoints(aM, aMidI, I_COL, 3, '#808080', 2);
fitLine(aM, aFitPhase, aFitI, 'blue', 4);
fitLine(aM, aFitPhase, aFitR, 'green', 4);
fitLine(aM, aFitPhase, aFitG, 'orange', 4);
label(aM.over, 636.5, 632, 'Phase Curve: 0.031 hours  (minima = 2)', 28);
label(aM.over, 636.5, 1190, 'Phase', 28);
label(aM.over, 35, 893, 'Offset Magnitude', 28, true);

// ----- (b) middle -----
const bM = makePanel({x0:1310, x1:2285, y0:665, y1:1145, xd:[0,1], yd:[-1.003,0.88],
    xt:phaseTicks, yt:bMidYTicks, xf:'.1f', yf:'.2f', ts:7, tp:4, fs:27});
errPoints(bM, bMidG, G_COL, 3, '#808080', 2);
errPoints(bM, bMidR, R_COL, 3, '#808080', 2);
errPoints(bM, bMidI, I_COL, 3, '#808080', 2);
fitLine(bM, bFitPhase, bFitI, 'blue', 4);
fitLine(bM, bFitPhase, bFitR, 'green', 4);
fitLine(bM, bFitPhase, bFitG, 'orange', 4);
label(bM.over, 1797.5, 647, 'Phase Curve: 0.031 hours  (minima = 2)', 28);
label(bM.over, 1797.5, 1199, 'Phase', 28);
label(bM.over, 1194, 905, 'Offset Magnitude', 28, true);

// ----- periodogram panels -----
function pgramPanel(cfg) {
    const p = makePanel({x0:cfg.x0, x1:cfg.x1, y0:cfg.y0, y1:cfg.y1, xd:cfg.xd, yd:cfg.yd,
        xt:periodTicks, yt:cfg.yt, xf:'.1f', yf:'.1f', ts:7, tp:4, fs:27});
    p.plot.append('path').datum(cfg.line).attr('fill', 'none').attr('stroke', '#000').attr('stroke-width', 2)
        .attr('stroke-linejoin', 'round')
        .attr('d', d3.line().x(d => p.x(d[0])).y(d => p.y(d[1])));
    p.plot.append('g').selectAll('path').data(cfg.cand).join('path')
        .attr('d', d => xPath(p.x(d[0]), p.y(d[1]), 7)).attr('stroke', '#808080').attr('stroke-width', 2);
    p.plot.append('g').selectAll('path').data(cfg.elim).join('path')
        .attr('d', d => xPath(p.x(d[0]), p.y(d[1]), 7)).attr('stroke', 'orange').attr('stroke-width', 2);
    p.plot.append('circle').attr('cx', p.x(cfg.best[0])).attr('cy', p.y(cfg.best[1])).attr('r', 8.5).attr('fill', 'red');
    const cx = (cfg.x0 + cfg.x1) / 2;
    label(p.over, cx, cfg.title, 'Lomb-Scargle Periodogram', 28);
    label(p.over, cx, cfg.xl, 'Period (hours)', 28);
    label(p.over, cfg.yl, (cfg.y0 + cfg.y1) / 2, 'Power', 28, true);
    // inset
    const s = cfg.inset;
    const q = makePanel({x0:s.x0, x1:s.x1, y0:s.y0, y1:s.y1, xd:s.xd, yd:s.yd,
        xt:insetXTicks, yt:s.yt, xf:'.3f', yf:'.1f', ts:4, tp:3, fs:12, lw:1.6});
    q.plot.append('path').datum(s.line).attr('fill', 'none').attr('stroke', '#000').attr('stroke-width', 2)
        .attr('d', d3.line().x(d => q.x(d[0])).y(d => q.y(d[1])));
    q.plot.append('circle').attr('cx', q.x(s.best[0])).attr('cy', q.y(s.best[1])).attr('r', 5).attr('fill', 'red');
    const icx = (s.x0 + s.x1) / 2;
    label(q.over, icx, s.y0 - 17, 'Zoomed-In View', 28);
    label(q.over, icx, s.y1 + 38.5, 'Period (hours)', 28);
    label(q.over, s.x0 - 47, (s.y0 + s.y1) / 2, 'Power', 28, true);
    // legend
    const L = cfg.legend;
    legendBox(p.over, L.box);
    p.over.append('path').attr('d', xPath(L.mx, L.ys[0], 7)).attr('stroke', 'orange').attr('stroke-width', 2);
    p.over.append('path').attr('d', xPath(L.mx, L.ys[1], 7)).attr('stroke', '#808080').attr('stroke-width', 2);
    p.over.append('circle').attr('cx', L.mx).attr('cy', L.ys[2]).attr('r', 8.5).attr('fill', 'red');
    label(p.over, L.tx, L.ys[0], 'Eliminated (1 minima)', 28, false, 'start');
    label(p.over, L.tx, L.ys[1], 'Candidate (2 minima)', 28, false, 'start');
    label(p.over, L.tx, L.ys[2], 'Best Period: 0.031 hours', 28, false, 'start');
}

pgramPanel({x0:143, x1:1130, y0:1259, y1:1744.5, xd:[-0.0087,0.5241], yd:[0.640,-0.030], yt:aBotYTicks,
    line:aPgram, cand:aCand, elim:aElim, best:aBest, title:1242, xl:1800, yl:70,
    inset:{x0:340, x1:582, y0:1313.5, y1:1432, xd:[0.02806,0.03434], yd:[0.731,0.004], yt:aInsetYTicks, line:aInset, best:aInsetBest},
    legend:{box:[670,1272,1117,1407], mx:708, tx:760, ys:[1296,1339,1382]}});
pgramPanel({x0:1310, x1:2285, y0:1265, y1:1746.5, xd:[-0.008,0.524], yd:[0.499,-0.0236], yt:bBotYTicks,
    line:bPgram, cand:bCand, elim:bElim, best:bBest, title:1249, xl:1801, yl:1238,
    inset:{x0:1503.5, x1:1742.6, y0:1319.5, y1:1437, xd:[0.02807,0.03431], yd:[0.5645,0.0093], yt:bInsetYTicks, line:bInset, best:bInsetBest},
    legend:{box:[1830,1279.5,2272,1412], mx:1869, tx:1920, ys:[1304,1346,1387.5]}});

// ----- (c) top: time series -----
const viridis = d3.interpolateViridis;
const cIdx = d3.range(cTime.length);
const cT = makePanel({x0:2504, x1:3817, y0:54, y1:535, xd:[0,0.1465], yd:[-0.4385,0.579],
    xt:cTopXTicks, yt:cMagTicks, xf:'.2f', yf:'.1f', ts:9, tp:8, fs:33, lw:2.2});
cT.plot.append('g').selectAll('line').data(cIdx).join('line')
    .attr('x1', i => cT.x(cTime[i])).attr('x2', i => cT.x(cTime[i]))
    .attr('y1', i => cT.y(cMag[i] - cErr[i])).attr('y2', i => cT.y(cMag[i] + cErr[i]))
    .attr('stroke', '#d6d6d6').attr('stroke-width', 3);
cT.plot.append('g').selectAll('circle').data(cIdx).join('circle')
    .attr('cx', i => cT.x(cTime[i])).attr('cy', i => cT.y(cMag[i])).attr('r', 7.5)
    .attr('fill', i => viridis(i / (cTime.length - 1)));
cT.plot.append('g').selectAll('path').data(d3.range(cOutTime.length)).join('path')
    .attr('d', i => xPath(cT.x(cOutTime[i]), cT.y(cOutMag[i]), 7))
    .attr('stroke', i => viridis(cOutTone[i])).attr('stroke-opacity', 0.5).attr('stroke-width', 3);
label(cT.over, 3160.5, 26, '2025 MJ71 last 1d (0.038 h) - 2 order of Fourier', 38);
label(cT.over, 3160.5, 605, 'Time JD - 2460799.50996466', 33);
label(cT.over, 2374, 294.5, 'Magnitude', 33, true);
legendBox(cT.over, [3525,69,3801,167]);
cT.over.append('circle').attr('cx', 3567).attr('cy', 95).attr('r', 7.5).attr('fill', viridis(0));
cT.over.append('path').attr('d', xPath(3567, 138, 7)).attr('stroke', viridis(0)).attr('stroke-opacity', 0.5).attr('stroke-width', 3);
label(cT.over, 3622, 95, 'Data (60)', 30, false, 'start');
label(cT.over, 3622, 138, 'Outliers (5)', 30, false, 'start');

// ----- (c) middle: folded -----
const cM = makePanel({x0:2504, x1:3817, y0:643.3, y1:1123.8, xd:[0,1], yd:[-0.4385,0.579],
    xt:phaseTicks, yt:cMagTicks, xf:'.1f', yf:'.1f', ts:9, tp:8, fs:33, lw:2.2});
cM.plot.append('g').selectAll('line').data(cIdx).join('line')
    .attr('x1', i => cM.x(cPhase[i])).attr('x2', i => cM.x(cPhase[i]))
    .attr('y1', i => cM.y(cMag[i] - cErr[i])).attr('y2', i => cM.y(cMag[i] + cErr[i]))
    .attr('stroke', '#d6d6d6').attr('stroke-width', 3);
cM.plot.append('g').selectAll('circle').data(cIdx).join('circle')
    .attr('cx', i => cM.x(cPhase[i])).attr('cy', i => cM.y(cMag[i])).attr('r', 7.5)
    .attr('fill', i => viridis(i / (cTime.length - 1)));
cM.plot.append('g').selectAll('path').data(d3.range(cOutPhase.length)).join('path')
    .attr('d', i => xPath(cM.x(cOutPhase[i]), cM.y(cOutMag[i]), 7))
    .attr('stroke', i => viridis(cOutTone[i])).attr('stroke-opacity', 0.5).attr('stroke-width', 3);
cM.plot.append('path').datum(cFit).attr('fill', 'none').attr('stroke', '#000').attr('stroke-width', 4)
    .attr('d', d3.line().x(d => cM.x(d[0])).y(d => cM.y(d[1])).curve(d3.curveCatmullRom.alpha(0.5)));
label(cM.over, 3160.5, 1193, 'Rotation phase (0.038)', 33);
label(cM.over, 2374, 883.5, 'Magnitude', 33, true);

// ----- (c) bottom: sigma periodogram -----
const cB = makePanel({x0:2504, x1:3817, y0:1232.5, y1:1713.6, xd:[13.4,1000], yd:[0.1971,0.1129],
    xt:cFreqTicks, yt:cSigmaTicks, xf:'d', yf:'.2f', ts:9, tp:8, fs:33, lw:2.2});
cB.plot.append('path').datum(cPgram).attr('fill', 'none').attr('stroke', '#1f77b4').attr('stroke-width', 3.5)
    .attr('stroke-linejoin', 'round')
    .attr('d', d3.line().x(d => cB.x(d[0])).y(d => cB.y(d[1])));
cB.plot.append('line').attr('x1', 2504).attr('x2', 3817)
    .attr('y1', cB.y(cThreshold)).attr('y2', cB.y(cThreshold))
    .attr('stroke', '#d3d3d3').attr('stroke-width', 4).attr('stroke-dasharray', '13,6');
cB.plot.append('circle').attr('cx', cB.x(cSolution[0])).attr('cy', cB.y(cSolution[1])).attr('r', 8).attr('fill', 'orange');
label(cB.over, 3160.5, 1785, 'Frequency (cycles/day)', 33);
label(cB.over, 2384, 1473, 'Sigma', 33, true);
legendBox(cB.over, [3505,1247,3801,1388]);
cB.over.append('circle').attr('cx', 3545).attr('cy', 1273).attr('r', 8).attr('fill', 'orange');
cB.over.append('line').attr('x1', 3515).attr('x2', 3577).attr('y1', 1317).attr('y2', 1317)
    .attr('stroke', '#1f77b4').attr('stroke-width', 3.5);
cB.over.append('line').attr('x1', 3515).attr('x2', 3577).attr('y1', 1359).attr('y2', 1359)
    .attr('stroke', '#d3d3d3').attr('stroke-width', 4).attr('stroke-dasharray', '13,6');
label(cB.over, 3601, 1273, 'Solution', 30, false, 'start');
label(cB.over, 3601, 1317, 'Periodogram', 30, false, 'start');
const sig = label(cB.over, 3601, 1359, '', 30, false, 'start');
sig.append('tspan').attr('font-style', 'italic').attr('font-family', '"DejaVu Serif", serif').text('σ');
sig.append('tspan').text(' threshold');

// ----- sub-figure captions -----
[['(a)', 584], ['(b)', 1749], ['(c)', 3114]].forEach(c => {
    svg.append('text').attr('x', c[1]).attr('y', 1886).attr('text-anchor', 'middle')
        .attr('dominant-baseline', 'central').attr('font-size', 50)
        .attr('font-family', '"Liberation Serif", "DejaVu Serif", serif').attr('fill', '#000').text(c[0]);
});
</script>
</body>
</html>
